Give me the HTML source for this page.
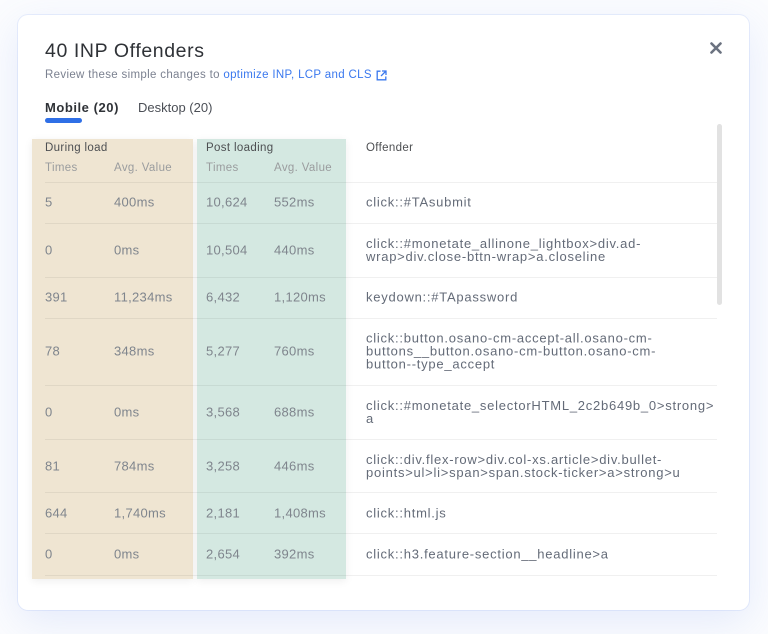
<!DOCTYPE html>
<html><head><meta charset="utf-8">
<style>
*{margin:0;padding:0;box-sizing:border-box}
html,body{width:768px;height:634px;overflow:hidden;background:#fbfcfe;font-family:"Liberation Sans",sans-serif}
.card{position:absolute;left:18px;top:15px;width:731px;height:595px;background:#fff;border-radius:10px;box-shadow:0 12px 40px rgba(110,140,235,0.16),0 0 0 1px rgba(220,228,250,0.6)}
.a{position:absolute;white-space:nowrap}
.title{left:45px;top:40px;font-size:19.5px;letter-spacing:0.6px;color:#2f3237}
.sub{left:45px;top:69px;font-size:11.5px;letter-spacing:0.33px;color:#7b8190}
.sub span{color:#3a78ee}
.tab1{left:45px;top:100px;font-size:13px;font-weight:bold;letter-spacing:0.55px;color:#2f3237}
.tab2{left:138px;top:100px;font-size:13px;color:#4b4f56}
.bar{left:45px;top:118px;width:37px;height:5px;border-radius:3px;background:#2f6fe6}
.tan{left:32px;top:139px;width:161px;height:440px;background:#efe5d2;box-shadow:0 2px 8px rgba(0,0,0,0.07)}
.grn{left:197px;top:139px;width:149px;height:440px;background:#d4e8e1;box-shadow:0 2px 8px rgba(0,0,0,0.07)}
.h1{font-size:11.5px;letter-spacing:0.35px;color:#4d4f52;top:142px}
.h2{font-size:11.5px;letter-spacing:0.35px;color:#9a9c9e;top:162px}
.sep{position:absolute;left:45px;width:672px;height:1px;background:rgba(0,0,0,0.06)}
.n{position:absolute;font-size:13px;letter-spacing:0.3px;color:#7f858d;white-space:nowrap;transform:translateY(-50%)}
.o{position:absolute;left:366px;font-size:13px;letter-spacing:0.75px;line-height:13px;color:#646b78;white-space:nowrap;transform:translateY(-50%)}
.scroll{left:717px;top:124px;width:5px;height:181px;border-radius:3px;background:#e2e2e2}
</style></head><body>
<div class="card"></div>
<div class="a title">40 INP Offenders</div>
<div class="a sub">Review these simple changes to <span>optimize INP, LCP and CLS</span></div>
<svg class="a" style="left:376px;top:70px" width="11" height="11" viewBox="0 0 11 11"><path d="M4.5 1.2H1.2v8.6h8.6V6.5" fill="none" stroke="#3a78ee" stroke-width="1.3"/><path d="M6 1h4v4M10 1L5 6" fill="none" stroke="#3a78ee" stroke-width="1.3"/></svg>
<svg class="a" style="left:710px;top:42px" width="12" height="12" viewBox="0 0 12 12"><path d="M1.5 1.5L10.5 10.5M10.5 1.5L1.5 10.5" stroke="#6b7280" stroke-width="2.6" stroke-linecap="round"/></svg>
<div class="a tab1">Mobile (20)</div>
<div class="a tab2">Desktop (20)</div>
<div class="a bar"></div>
<div class="a tan"></div>
<div class="a grn"></div>
<div class="a scroll"></div>
<div class="a h1" style="left:45px">During load</div>
<div class="a h1" style="left:206px">Post loading</div>
<div class="a h1" style="left:366px">Offender</div>
<div class="a h2" style="left:45px">Times</div>
<div class="a h2" style="left:114px">Avg. Value</div>
<div class="a h2" style="left:206px">Times</div>
<div class="a h2" style="left:274px">Avg. Value</div>

<div class="sep" style="top:182px"></div>
<div class="sep" style="top:223px"></div>
<div class="sep" style="top:277px"></div>
<div class="sep" style="top:318px"></div>
<div class="sep" style="top:385px"></div>
<div class="sep" style="top:439px"></div>
<div class="sep" style="top:492px"></div>
<div class="sep" style="top:533px"></div>
<div class="sep" style="top:575px"></div>

<div class="n" style="left:45px;top:202px">5</div><div class="n" style="left:114px;top:202px">400ms</div><div class="n" style="left:206px;top:202px">10,624</div><div class="n" style="left:274px;top:202px">552ms</div>
<div class="o" style="top:202px">click::#TAsubmit</div>

<div class="n" style="left:45px;top:250px">0</div><div class="n" style="left:114px;top:250px">0ms</div><div class="n" style="left:206px;top:250px">10,504</div><div class="n" style="left:274px;top:250px">440ms</div>
<div class="o" style="top:250px">click::#monetate_allinone_lightbox&gt;div.ad-<br>wrap&gt;div.close-bttn-wrap&gt;a.closeline</div>

<div class="n" style="left:45px;top:297px">391</div><div class="n" style="left:114px;top:297px">11,234ms</div><div class="n" style="left:206px;top:297px">6,432</div><div class="n" style="left:274px;top:297px">1,120ms</div>
<div class="o" style="top:297px">keydown::#TApassword</div>

<div class="n" style="left:45px;top:351px">78</div><div class="n" style="left:114px;top:351px">348ms</div><div class="n" style="left:206px;top:351px">5,277</div><div class="n" style="left:274px;top:351px">760ms</div>
<div class="o" style="top:351px">click::button.osano-cm-accept-all.osano-cm-<br>buttons__button.osano-cm-button.osano-cm-<br>button--type_accept</div>

<div class="n" style="left:45px;top:412px">0</div><div class="n" style="left:114px;top:412px">0ms</div><div class="n" style="left:206px;top:412px">3,568</div><div class="n" style="left:274px;top:412px">688ms</div>
<div class="o" style="top:412px">click::#monetate_selectorHTML_2c2b649b_0&gt;strong&gt;<br>a</div>

<div class="n" style="left:45px;top:466px">81</div><div class="n" style="left:114px;top:466px">784ms</div><div class="n" style="left:206px;top:466px">3,258</div><div class="n" style="left:274px;top:466px">446ms</div>
<div class="o" style="top:466px">click::div.flex-row&gt;div.col-xs.article&gt;div.bullet-<br>points&gt;ul&gt;li&gt;span&gt;span.stock-ticker&gt;a&gt;strong&gt;u</div>

<div class="n" style="left:45px;top:513px">644</div><div class="n" style="left:114px;top:513px">1,740ms</div><div class="n" style="left:206px;top:513px">2,181</div><div class="n" style="left:274px;top:513px">1,408ms</div>
<div class="o" style="top:513px">click::html.js</div>

<div class="n" style="left:45px;top:554px">0</div><div class="n" style="left:114px;top:554px">0ms</div><div class="n" style="left:206px;top:554px">2,654</div><div class="n" style="left:274px;top:554px">392ms</div>
<div class="o" style="top:554px">click::h3.feature-section__headline&gt;a</div>
</body></html>
